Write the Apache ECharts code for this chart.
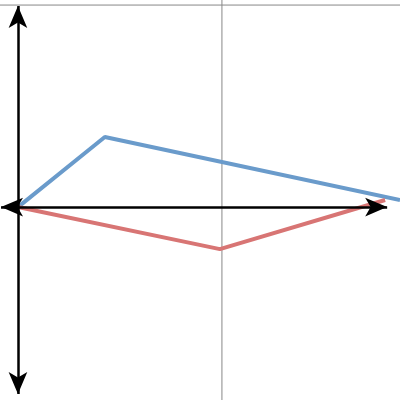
<!DOCTYPE html>
<html><head><meta charset="utf-8">
<script src="https://cdn.jsdelivr.net/npm/echarts@6/dist/echarts.min.js"></script>
<style>html,body{margin:0;padding:0}#c{width:400px;height:400px}</style>
</head><body><div id="c"></div>
<script>
const blueX = [0, 0.426, 1.873];
const blueY = [0, 0.347, 0.035];
const redX = [0, 0.99, 1.80];
const redY = [0, -0.208, 0.035];
const xMin = -0.088, xMax = 1.873, yMin = -0.955, yMax = 1.025;
const chart = echarts.init(document.getElementById('c'));
const pts = (xs, ys) => xs.map((x, i) => [x, ys[i]]);
const line = (data, color, width, extra) => Object.assign({
  type: 'line', data, symbol: 'none', silent: true, animation: false,
  lineStyle: { color, width }
}, extra || {});
chart.setOption({
  animation: false,
  grid: { left: 0, right: 0, top: 0, bottom: 0 },
  xAxis: { type: 'value', min: xMin, max: xMax, show: false },
  yAxis: { type: 'value', min: yMin, max: yMax, show: false },
  series: [
    line([[1, yMin], [1, yMax]], '#888', 1),
    line([[xMin, 1], [xMax, 1]], '#888', 1),
    {
      type: 'line', data: [], silent: true, animation: false,
      markLine: {
        silent: true, animation: false,
        symbol: ['arrow', 'arrow'], symbolSize: [14, 22],
        label: { show: false },
        lineStyle: { color: '#000', width: 2.5, type: 'solid' },
        itemStyle: { color: '#000' },
        data: [
          [{ coord: [0, yMin + 0.03] }, { coord: [0, yMax - 0.03] }],
          [{ coord: [xMin + 0.005, 0] }, { coord: [1.81, 0] }]
        ]
      }
    },
    line(pts(blueX, blueY), '#6a9bcb', 4),
    line(pts(redX, redY), '#d87574', 4)
  ]
});
</script></body></html>
